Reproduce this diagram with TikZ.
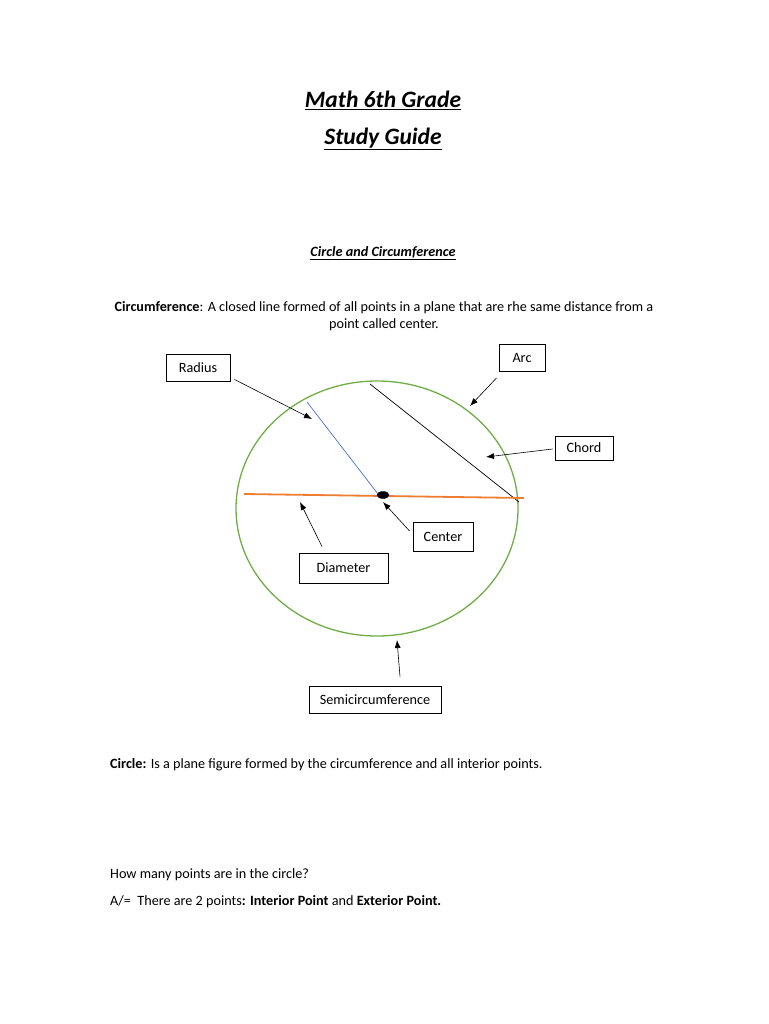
\documentclass[tikz,border=0pt]{standalone}
\usepackage{fontspec}
\setmainfont{Carlito}
\usetikzlibrary{shapes.geometric,arrows.meta}
\definecolor{circgreen}{HTML}{70AD47}
\definecolor{diamorange}{HTML}{ED7D31}
\definecolor{radblue}{HTML}{4472C4}
\begin{document}
\begin{tikzpicture}[
    x=1pt, y=-1pt,
    every node/.style={
        font=\fontsize{14.2}{17}\selectfont,
        inner sep=0pt
    },
    labelbox/.style={
        draw,
        line width=0.9pt,
        align=center,
        minimum height=27pt
    },
    pointer/.style={draw, line width=0.6pt, -{Latex[length=8pt,width=6pt]}},
    title/.style={font=\fontsize{23.5}{28}\selectfont\bfseries\itshape},
    bodytext/.style={anchor=base west}
]
\useasboundingbox (0,0) rectangle (768,1024);

% heading
\node[title] (head1) at (383,100) {\underline{Math 6th Grade}};
\node[title] (head2) at (383,139) {\underline{Study Guide}};
\node[font=\fontsize{14.2}{17}\selectfont\bfseries\itshape] (topic) at (383,253) {\underline{Circle and Circumference}};

\node[align=center] (defn) at (384,316)
    {\textbf{Circumference}: A closed line formed of all points in a plane that are rhe same distance from a\\
     point called center.};

% the circle
\draw[circgreen, line width=1.3pt] (377,508.5) ellipse [x radius=141pt, y radius=127.5pt];
\draw[radblue, line width=0.7pt] (307,402) -- (378,494);
\draw[line width=0.7pt] (370,384) -- (519,502);
\draw[diamorange, line width=1.8pt] (244,494) -- (524,498);
\node[draw, fill=black, ellipse, minimum width=12pt, minimum height=7pt] (centre) at (383,495) {};

% labels
\node[labelbox, minimum width=64pt] (radius) at (198,367.5) {Radius};
\node[labelbox, minimum width=46pt] (arc) at (522,358) {Arc};
\node[labelbox, minimum width=58pt, minimum height=24pt] (chord) at (584,448) {Chord};
\node[labelbox, minimum width=60pt, minimum height=29pt] (center) at (443,536.5) {Center};
\node[labelbox, minimum width=89pt, minimum height=30pt] (diameter) at (343.5,568) {Diameter};
\node[labelbox, minimum width=132pt] (semi) at (375,699.5) {Semicircumference};

\coordinate (radtip) at (312,419);
\coordinate (arctip) at (470,406);
\coordinate (chordtip) at (486,457);
\coordinate (centtip) at (383,502);
\coordinate (diamtip) at (300,502);
\coordinate (semitip) at (397,640);

\draw[pointer] (radius.south east) ++(4,-2) -- (radtip);
\draw[pointer] (arc.south west) ++(-2,6) -- (arctip);
\draw[pointer] (chord.west) ++(-2,1) -- (chordtip);
\draw[pointer] (center.west) ++(-3,-5.5) -- (centtip);
\draw[pointer] (diameter.north) ++(-21.5,-6) -- (diamtip);
\draw[pointer] (semi.north) ++(25,-9) -- (semitip);

% text below
\node[bodytext] (circdef) at (110,768) {\textbf{Circle:} Is a plane figure formed by the circumference and all interior points.};
\node[bodytext] (quest) at (110,878) {How many points are in the circle?};
\node[bodytext] (answer) at (110,905) {A/=\ \ There are 2 points\textbf{: Interior Point} and \textbf{Exterior Point.}};
\end{tikzpicture}
\end{document}
